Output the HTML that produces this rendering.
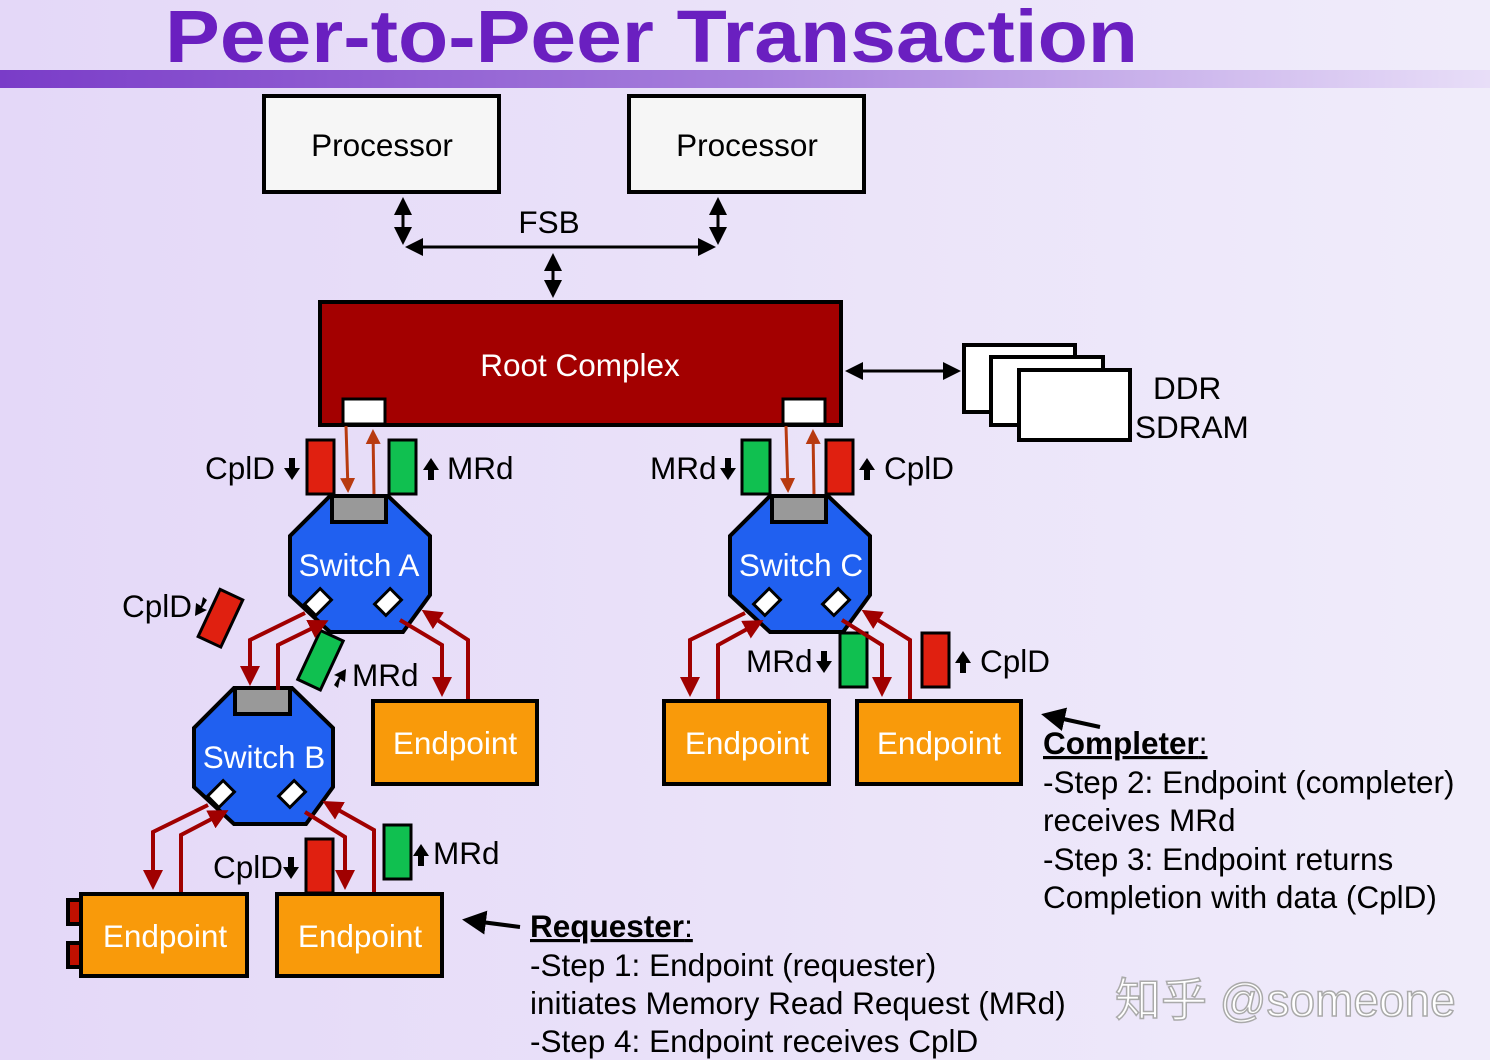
<!DOCTYPE html>
<html><head><meta charset="utf-8"><style>
body{margin:0;background:#e8def8;}
svg{display:block}
text{font-family:"Liberation Sans",sans-serif;}
</style></head><body>
<svg width="1490" height="1060" viewBox="0 0 1490 1060" xmlns="http://www.w3.org/2000/svg">
<defs>
<linearGradient id="bar" x1="0" x2="1"><stop offset="0" stop-color="#7a3cc8"/><stop offset="0.5" stop-color="#a67fdc"/><stop offset="1" stop-color="#e8def8"/></linearGradient>
<linearGradient id="bg" x1="0" x2="1"><stop offset="0" stop-color="#e4d8f8"/><stop offset="1" stop-color="#f0ecfa"/></linearGradient>
<marker id="ab" markerWidth="6" markerHeight="6" refX="5" refY="3" orient="auto-start-reverse" markerUnits="strokeWidth"><path d="M0,0L6,3L0,6z" fill="#000"/></marker>
<marker id="ar" markerWidth="5" markerHeight="5" refX="4" refY="2.5" orient="auto" markerUnits="strokeWidth"><path d="M0,0L5,2.5L0,5z" fill="#a00000"/></marker>
<marker id="ao" markerWidth="5" markerHeight="5" refX="4" refY="2.5" orient="auto" markerUnits="strokeWidth"><path d="M0,0L5,2.5L0,5z" fill="#b83a10"/></marker>
</defs>
<rect width="1490" height="1060" fill="url(#bg)"/>
<text x="165" y="62" font-size="74" font-weight="bold" fill="#6a1fc0" textLength="973" lengthAdjust="spacingAndGlyphs">Peer-to-Peer Transaction</text>
<rect x="0" y="70" width="1490" height="18" fill="url(#bar)"/>

<g stroke="#000" stroke-width="4">
<rect x="264" y="96" width="235" height="96" fill="#f6f6f6"/>
<rect x="629" y="96" width="235" height="96" fill="#f6f6f6"/>
</g>
<g font-size="31.5">
<text x="382" y="156" text-anchor="middle">Processor</text>
<text x="747" y="156" text-anchor="middle">Processor</text>
</g>

<g stroke="#000" stroke-width="3" fill="none">
<line x1="403" y1="200" x2="403" y2="242" marker-start="url(#ab)" marker-end="url(#ab)"/>
<line x1="718" y1="200" x2="718" y2="242" marker-start="url(#ab)" marker-end="url(#ab)"/>
<line x1="408" y1="247" x2="713" y2="247" marker-start="url(#ab)" marker-end="url(#ab)"/>
<line x1="553" y1="256" x2="553" y2="295" marker-start="url(#ab)" marker-end="url(#ab)"/>
<line x1="848" y1="371" x2="958" y2="371" marker-start="url(#ab)" marker-end="url(#ab)"/>
</g>
<text x="549" y="233" font-size="31.5" text-anchor="middle">FSB</text>

<rect x="320" y="302" width="521" height="123" fill="#a30000" stroke="#000" stroke-width="4"/>
<text x="580" y="376" font-size="31.5" fill="#fff" text-anchor="middle">Root Complex</text>
<rect x="343" y="399" width="42" height="25" fill="#fff" stroke="#000" stroke-width="3"/>
<rect x="783" y="399" width="42" height="25" fill="#fff" stroke="#000" stroke-width="3"/>

<g stroke="#000" stroke-width="4" fill="#fff">
<rect x="964" y="345" width="111" height="67"/>
<rect x="991" y="357" width="112" height="68"/>
<rect x="1019" y="370" width="111" height="70"/>
</g>
<text x="1153" y="399" font-size="31.5">DDR</text>
<text x="1135" y="438" font-size="31.5">SDRAM</text>

<g stroke="#b83a10" stroke-width="3" fill="none">
<line x1="346" y1="426" x2="348" y2="490" marker-end="url(#ao)"/>
<line x1="374" y1="495" x2="373" y2="432" marker-end="url(#ao)"/>
<line x1="786" y1="426" x2="788" y2="490" marker-end="url(#ao)"/>
<line x1="814" y1="495" x2="813" y2="432" marker-end="url(#ao)"/>
</g>

<g stroke="#000" stroke-width="3">
<rect x="307" y="440" width="27" height="54" fill="#e02010"/>
<rect x="389" y="440" width="27" height="54" fill="#10c050"/>
<rect x="742" y="440" width="28" height="54" fill="#10c050"/>
<rect x="826" y="440" width="27" height="54" fill="#e02010"/>
<rect x="840" y="633" width="27" height="54" fill="#10c050"/>
<rect x="922" y="633" width="27" height="54" fill="#e02010"/>
<rect x="306" y="839" width="27" height="54" fill="#e02010"/>
<rect x="384" y="825" width="27" height="54" fill="#10c050"/>
<rect x="208" y="592" width="25" height="52" fill="#e02010" transform="rotate(25 220 618)"/>
<rect x="308" y="633" width="25" height="54" fill="#10c050" transform="rotate(25 320 660)"/>
</g>
<g font-size="31.5">
<text x="205" y="479">CplD</text><text x="447" y="479">MRd</text>
<text x="650" y="479">MRd</text><text x="884" y="479">CplD</text>
<text x="122" y="617">CplD</text><text x="352" y="686">MRd</text>
<text x="746" y="672">MRd</text><text x="980" y="672">CplD</text>
<text x="213" y="878">CplD</text><text x="433" y="864">MRd</text>
</g>
<g fill="#000">
<path d="M289,458h6v10h5l-8,12l-8,-12h5z"/>
<path d="M428,480h6v-10h5l-8,-12l-8,12h5z"/>
<path d="M725,458h6v10h5l-8,12l-8,-12h5z"/>
<path d="M864,480h6v-10h5l-8,-12l-8,12h5z"/>
<path d="M821,651h6v10h5l-8,12l-8,-12h5z"/>
<path d="M960,673h6v-10h5l-8,-12l-8,12h5z"/>
<path d="M288,857h6v10h5l-8,12l-8,-12h5z"/>
<path d="M418,866h6v-10h5l-8,-12l-8,12h5z"/>
<path d="M203,597l4,3l-5,8l5,2l-12,6l1,-13l5,3z"/>
<path d="M338,688l-4,-3l5,-8l-5,-2l12,-6l-1,13l-5,-3z"/>
</g>

<g stroke="#000" stroke-width="4">
<polygon points="330,496 388,496 430,536 430,595 403,632 330,632 290,595 290,536" fill="#2060f0"/>
<polygon points="770,496 828,496 870,536 870,595 843,632 770,632 730,595 730,536" fill="#2060f0"/>
<polygon points="234,688 292,688 333,728 333,787 306,824 234,824 194,787 194,728" fill="#2060f0"/>
<rect x="332" y="496" width="54" height="26" fill="#999"/>
<rect x="772" y="496" width="54" height="26" fill="#999"/>
<rect x="235" y="688" width="55" height="26" fill="#999"/>
<g fill="#fff" stroke-width="3">
<rect x="307" y="594" width="22" height="16" transform="rotate(-45 318 602)"/>
<rect x="377" y="594" width="22" height="16" transform="rotate(-45 388 602)"/>
<rect x="756" y="594" width="22" height="16" transform="rotate(-45 767 602)"/>
<rect x="825" y="594" width="22" height="16" transform="rotate(-45 836 602)"/>
<rect x="210" y="786" width="22" height="16" transform="rotate(-45 221 794)"/>
<rect x="281" y="786" width="22" height="16" transform="rotate(-45 292 794)"/>
</g>
</g>
<g font-size="31.5" fill="#fff">
<text x="359" y="576" text-anchor="middle">Switch A</text>
<text x="801" y="576" text-anchor="middle">Switch C</text>
<text x="264" y="768" text-anchor="middle">Switch B</text>
</g>

<g stroke="#a00000" stroke-width="4" fill="none">
<polyline points="305,613 250,640 250,682" marker-end="url(#ar)"/>
<polyline points="278,690 278,645 325,622" marker-end="url(#ar)"/>
<polyline points="400,620 442,645 442,693" marker-end="url(#ar)"/>
<polyline points="468,700 468,640 425,612" marker-end="url(#ar)"/>
<polyline points="745,613 690,640 690,693" marker-end="url(#ar)"/>
<polyline points="718,700 718,645 760,622" marker-end="url(#ar)"/>
<polyline points="842,620 882,645 882,693" marker-end="url(#ar)"/>
<polyline points="910,700 910,640 865,612" marker-end="url(#ar)"/>
<polyline points="208,805 153,832 153,886" marker-end="url(#ar)"/>
<polyline points="181,893 181,835 225,812" marker-end="url(#ar)"/>
<polyline points="305,812 345,837 345,886" marker-end="url(#ar)"/>
<polyline points="374,893 374,830 326,803" marker-end="url(#ar)"/>
</g>

<g stroke="#000" stroke-width="4" fill="#f99a0a">
<rect x="68" y="900" width="14" height="24" fill="#c01000"/>
<rect x="68" y="943" width="14" height="24" fill="#c01000"/>
<rect x="373" y="701" width="164" height="83"/>
<rect x="664" y="701" width="165" height="83"/>
<rect x="857" y="701" width="164" height="83"/>
<rect x="81" y="894" width="166" height="82"/>
<rect x="277" y="894" width="165" height="82"/>
</g>
<g font-size="31.5" fill="#fff" text-anchor="middle">
<text x="455" y="754">Endpoint</text>
<text x="747" y="754">Endpoint</text>
<text x="939" y="754">Endpoint</text>
<text x="165" y="947">Endpoint</text>
<text x="360" y="947">Endpoint</text>
</g>

<g stroke="#000" stroke-width="4">
<line x1="1100" y1="727" x2="1045" y2="715" marker-end="url(#ab)"/>
<line x1="520" y1="927" x2="466" y2="920" marker-end="url(#ab)"/>
</g>
<g font-size="31.5">
<text x="1043" y="754" font-weight="bold" text-decoration="underline">Completer<tspan font-weight="normal">:</tspan></text>
<text x="1043" y="793">-Step 2: Endpoint (completer)</text>
<text x="1043" y="831">receives MRd</text>
<text x="1043" y="870">-Step 3: Endpoint returns</text>
<text x="1043" y="908">Completion with data (CplD)</text>
<text x="530" y="937" font-weight="bold" text-decoration="underline">Requester<tspan font-weight="normal">:</tspan></text>
<text x="530" y="976">-Step 1: Endpoint (requester)</text>
<text x="530" y="1014">initiates Memory Read Request (MRd)</text>
<text x="530" y="1052">-Step 4: Endpoint receives CplD</text>
</g>
<text x="1115" y="1016" font-size="46" fill="#fff" stroke="#aaa" stroke-width="1.5" font-family="Liberation Sans, Noto Sans CJK SC, sans-serif">知乎 @someone</text>
</svg>
</body></html>
